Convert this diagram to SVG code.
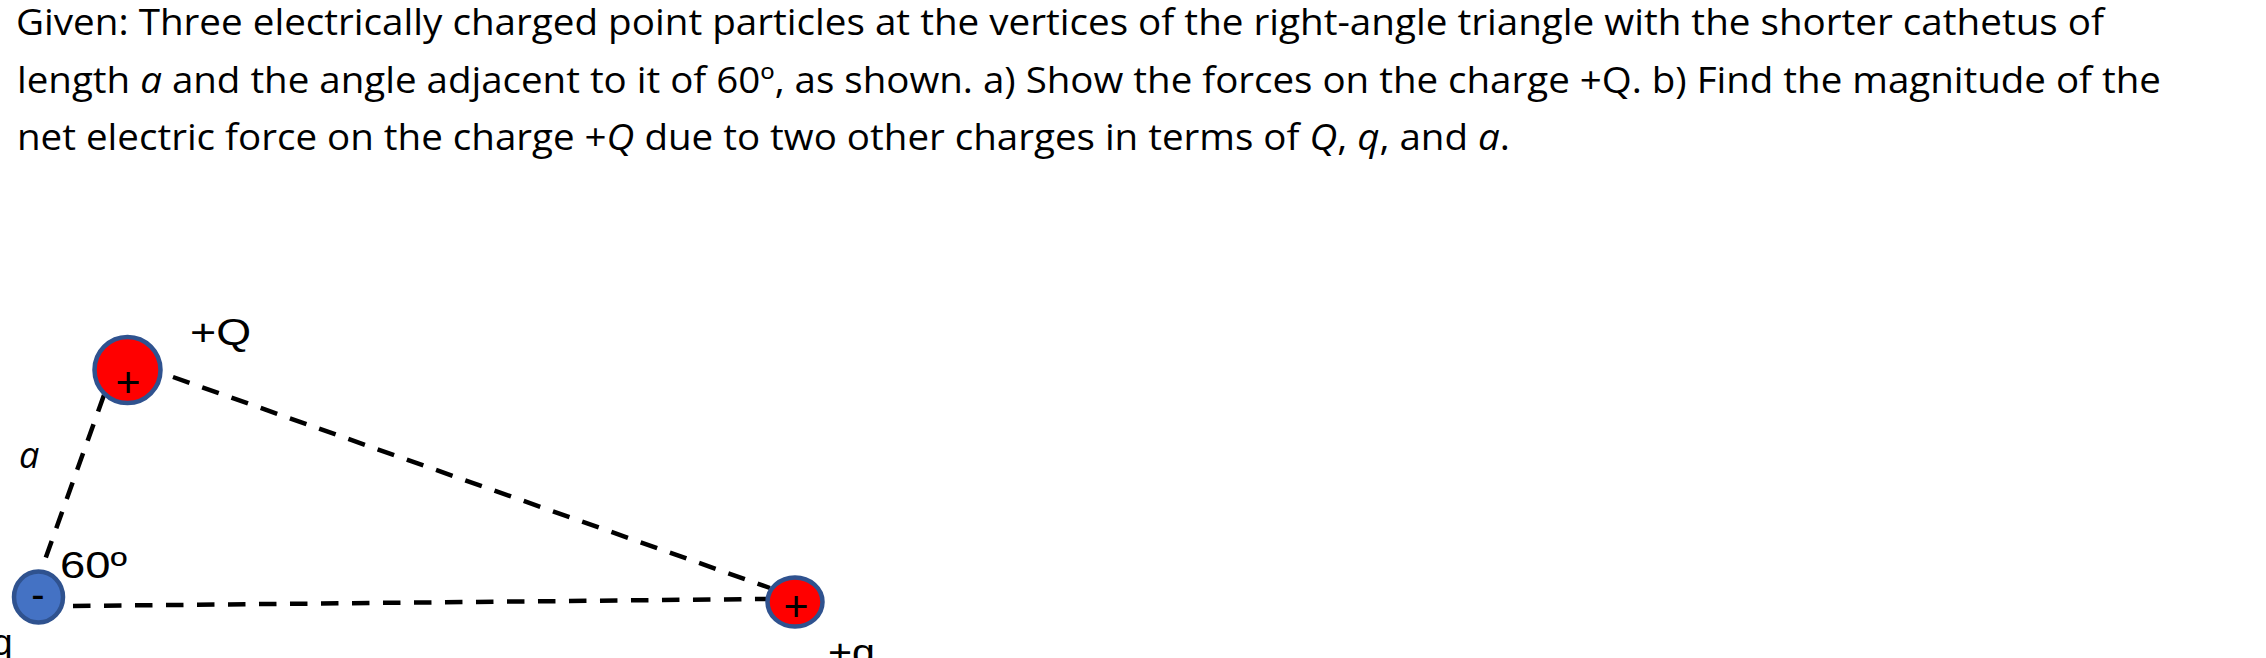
<svg xmlns="http://www.w3.org/2000/svg" width="2266" height="658" viewBox="0 0 2266 658">
<style>
.hd{font-family:"Open Sans","Noto Sans",sans-serif;font-size:36px;fill:#000}
.it{font-style:italic}
.lb{font-family:"Liberation Sans",Arial,sans-serif;font-size:37px;fill:#000}
.sg{font-family:"Liberation Sans",Arial,sans-serif;fill:#000;text-anchor:middle}
.cn{fill:none;stroke:#000;stroke-width:4.5;stroke-dasharray:17.5 13.5}
.pos{fill:#FF0000;stroke:#2F528F;stroke-width:4.5}
.neg{fill:#4472C4;stroke:#2F528F;stroke-width:4.5}
</style>
<rect width="2266" height="658" fill="#fff"/>
<g id="statement">
<text class="hd" x="16" y="35" textLength="2088" lengthAdjust="spacingAndGlyphs">Given: Three electrically charged point particles at the vertices of the right-angle triangle with the shorter cathetus of</text>
<text class="hd" x="17" y="93" textLength="2144" lengthAdjust="spacingAndGlyphs">length <tspan class="it">a</tspan> and the angle adjacent to it of 60º, as shown. a) Show the forces on the charge +Q. b) Find the magnitude of the</text>
<text class="hd" x="17" y="150" textLength="1493" lengthAdjust="spacingAndGlyphs">net electric force on the charge +<tspan class="it">Q</tspan> due to two other charges in terms of <tspan class="it">Q</tspan>, <tspan class="it">q</tspan>, and <tspan class="it">a</tspan>.</text>
</g>
<g id="connectors">
<line class="cn" x1="104" y1="395" x2="42" y2="568"/>
<line class="cn" x1="173" y1="377" x2="770" y2="588"/>
<line class="cn" x1="73" y1="606" x2="766" y2="599"/>
</g>
<g id="charge-Q">
<circle class="pos" cx="127.5" cy="370" r="33"/>
<text class="sg" x="128" y="397" font-size="43">+</text>
<text class="lb" x="190" y="345" textLength="61" lengthAdjust="spacingAndGlyphs">+Q</text>
</g>
<g id="charge-q-neg">
<ellipse class="neg" cx="38.5" cy="597" rx="24.5" ry="25.5"/>
<text class="sg" x="38" y="608" font-size="40">-</text>
<text class="lb" x="-8" y="655">q</text>
</g>
<g id="charge-q-pos">
<ellipse class="pos" cx="795" cy="602" rx="27.5" ry="24.5"/>
<text class="sg" x="796" y="621" font-size="43">+</text>
<text class="lb" x="828" y="665" textLength="47" lengthAdjust="spacingAndGlyphs">+q</text>
</g>
<g id="labels">
<text class="hd it" x="19" y="468" font-size="37">a</text>
<text class="lb" x="60" y="578" font-size="37" textLength="67" lengthAdjust="spacingAndGlyphs">60º</text>
</g>
</svg>
